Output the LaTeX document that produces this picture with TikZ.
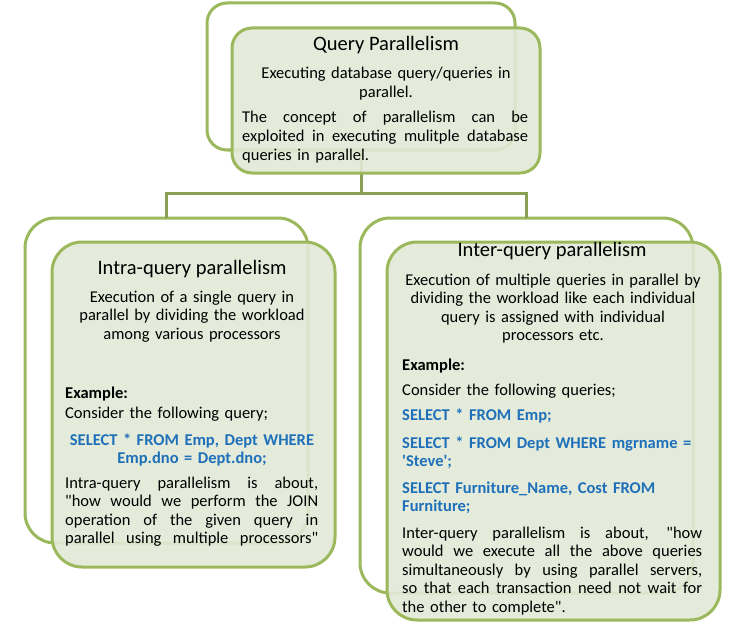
\documentclass[tikz,border=0pt]{standalone}
\usepackage{fontspec}
\setmainfont{Carlito}[Ligatures=TeXOff]
\definecolor{boxline}{RGB}{155,185,92}
\definecolor{connline}{RGB}{138,160,82}
\definecolor{boxfill}{RGB}{226,233,214}
\definecolor{sqlblue}{RGB}{30,112,186}
\newcommand\jl[1]{{\spaceskip=0pt\xspaceskip=0pt\relax\makebox[\hsize][s]{#1}}}
\begin{document}
\begin{tikzpicture}[x=1pt,y=-1pt,
  box/.style={rectangle, rounded corners=#1, draw=boxline, line width=3pt,
    outer sep=0pt, inner sep=0pt, anchor=north west},
  backbox/.style={box=#1, fill=white},
  frontbox/.style={box=#1, fill=boxfill, fill opacity=0.9},
  conn/.style={draw=connline, line width=3pt},
  ttl/.style={font=\fontsize{20.5}{24}\selectfont, anchor=base, inner sep=0pt},
  cpar/.style={font=\fontsize{16.5}{18.6}\selectfont, inner sep=0pt,
    text width=#1, align=center, anchor=base},
  lpar/.style={font=\fontsize{16.5}{18.6}\selectfont, inner sep=0pt,
    text width=#1, align=left, anchor=base west},
  bpar/.style={font=\bfseries\fontsize{16.5}{18.6}\selectfont, inner sep=0pt,
    text width=#1, align=left, anchor=base west},
  sqlc/.style={font=\bfseries\fontsize{16.5}{18.6}\selectfont, text=sqlblue,
    inner sep=0pt, text width=#1, align=center, anchor=base},
  sqll/.style={font=\bfseries\fontsize{16.5}{18.6}\selectfont, text=sqlblue,
    inner sep=0pt, text width=#1, align=left, anchor=base west}]
\useasboundingbox (0,0) rectangle (744,623);

% back boxes
\node[backbox=20pt, minimum width=308pt, minimum height=147pt] (qback) at (207,3) {};
\node[backbox=30pt, minimum width=283pt, minimum height=325pt] (lback) at (25,218) {};
\node[backbox=30pt, minimum width=333pt, minimum height=375pt] (rback) at (360,218) {};

% connectors
\coordinate (hub) at (361,193);
\draw[conn] (qback.south) -- (hub);
\draw[conn] (lback.north) |- (hub) -| (rback.north);

% front boxes
\node[frontbox=20pt, minimum width=308pt, minimum height=145pt] (qfront) at (232,28) {};
\node[frontbox=30pt, minimum width=283pt, minimum height=325pt] (lfront) at (52,242) {};
\node[frontbox=30pt, minimum width=333pt, minimum height=378pt] (rfront) at (387,242) {};

% top box text
\node[ttl] (qtitle) at (386,51) {Query Parallelism};
\node[cpar=295pt] (qp1) at (386,79) {Executing database query/queries in\\parallel.};
\node[lpar=286pt] (qp2) at (242,123) {\jl{The concept of parallelism can be}\\
  \jl{exploited in executing mulitple database}\\queries in parallel.};

% left box text
\node[ttl] (ltitle) at (192,274) {Intra-query parallelism};
\node[cpar=265pt] (lp1) at (192,302) {Execution of a single query in\\
  parallel by dividing the workload\\among various processors};
\node[bpar=250pt] (lex) at (65,398) {Example:};
\node[lpar=255pt] (lp2) at (65,418) {Consider the following query;};
\node[sqlc=265pt] (lsql) at (192,445) {SELECT * FROM Emp, Dept WHERE\\Emp.dno = Dept.dno;};
\node[lpar=253pt] (lp3) at (65,488) {\jl{Intra-query parallelism is about,}\\
  \jl{"how would we perform the JOIN}\\
  \jl{operation of the given query in}\\
  \jl{parallel using multiple processors"}};

% right box text
\node[ttl] (rtitle) at (552,256) {Inter-query parallelism};
\node[cpar=320pt] (rp1) at (553,285) {Execution of multiple queries in parallel by\\
  dividing the workload like each individual\\query is assigned with individual\\processors etc.};
\node[bpar=290pt] (rex) at (402,370) {Example:};
\node[lpar=300pt] (rp2) at (402,395) {Consider the following queries;};
\node[sqll=305pt] (rs1) at (402,420) {SELECT * FROM Emp;};
\node[sqll=305pt] (rs2) at (402,448) {SELECT * FROM Dept WHERE mgrname =\\'Steve';};
\node[sqll=305pt] (rs3) at (402,493) {SELECT Furniture\_Name, Cost FROM\\Furniture;};
\node[lpar=300pt] (rp3) at (402,538) {\jl{Inter-query parallelism is about, "how}\\
  \jl{would we execute all the above queries}\\
  \jl{simultaneously by using parallel servers,}\\
  \jl{so that each transaction need not wait for}\\
  the other to complete".};
\end{tikzpicture}
\end{document}
